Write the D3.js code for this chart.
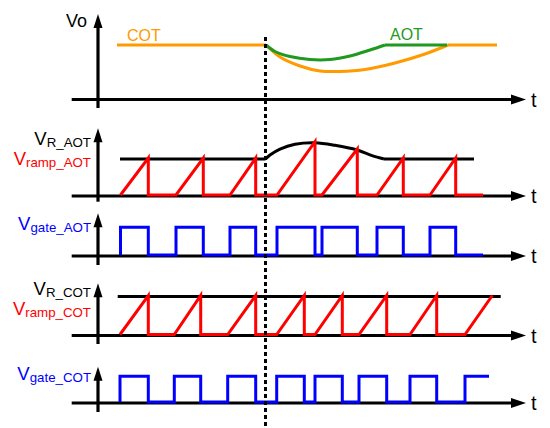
<!DOCTYPE html>
<html><head><meta charset="utf-8">
<script src="https://cdn.jsdelivr.net/npm/d3@7"></script>
<style>
body{margin:0;background:#fff}
svg{display:block}
text{font-family:"Liberation Sans",Arial,sans-serif}
</style>
</head><body>
<svg id="c" width="550" height="428"></svg>
<script>
// ---------------- DATA (time in arbitrary units, t = 0 at the vertical axes) ----------------
const loadStep = 167.5;               // load transient instant (dashed line)

// Vo panel, normalised (1 = regulated level)
const voCotFlatBefore = [[19, 1], [168, 1]];
const voCotDip = [[168, 1], [182, 0.780], [202, 0.615], [222, 0.523], [242, 0.514], [267, 0.550], [297, 0.670], [327, 0.835], [350, 1]];
const voCotFlatAfter = [[350, 1], [399, 1]];
const voAotDip = [[168, 1], [177, 0.881], [192, 0.789], [212, 0.734], [232, 0.734], [252, 0.798], [272, 0.908], [287, 1]];
const voAotFlatAfter = [[287, 1], [349, 1]];

// AOT ramp threshold V_R_AOT (normalised)
const vrAotFlatBefore = [[22, 1], [167.5, 1]];
const vrAotBump = [[167.5, 1], [172, 1.11], [182, 1.27], [197, 1.40], [217, 1.44], [237, 1.37], [259, 1.243], [274, 1.09], [286, 1]];
const vrAotFlatAfter = [[286, 1], [376, 1]];

// AOT switching: on-time starts / ends and ramp peaks
const aotOnStart = [22.5, 78, 132, 179, 224, 279, 332];
const aotOnEnd   = [50.3, 105.3, 157.7, 217, 259.3, 305.3, 357.7];
const aotPeak    = [1, 1, 1, 1.44, 1.243, 1, 1];
const aotEnd = 385;

// COT switching
const vrCot = [[19.7, 1], [402.7, 1]];
const cotOnStart = [22, 76.3, 129.7, 178.7, 217, 261, 312, 367];
const cotOnEnd   = [50.3, 102.7, 157.7, 206.3, 244.3, 288.7, 338.7, 394.3];
const cotGateLastEnd = 391;

// Labels
const leftLabels = [
  {main: "V", sub: "R_AOT", color: "#000", panel: 1, y: 145},
  {main: "V", sub: "ramp_AOT", color: "#ff0000", panel: 1, y: 165},
  {main: "V", sub: "gate_AOT", color: "#0000ff", panel: 2, y: 230},
  {main: "V", sub: "R_COT", color: "#000", panel: 3, y: 295},
  {main: "V", sub: "ramp_COT", color: "#ff0000", panel: 3, y: 315},
  {main: "V", sub: "gate_COT", color: "#0000ff", panel: 4, y: 380}
];

// ---------------- LAYOUT ----------------
const ORANGE = "#ff9a00", GREEN = "#1f9a1f", RED = "#ff0000", BLUE = "#0000ff";
const svg = d3.select("#c");
const x = d3.scaleLinear().domain([0, 430]).range([98, 528]);
const panels = [
  {base: 99.5, top: 45,    axTop: 14,    axBot: 108},
  {base: 196,  top: 159,   axTop: 128.3, axBot: 201.7},
  {base: 256,  top: 228.3, axTop: 213.3, axBot: 265},
  {base: 335.5,top: 296.5, axTop: 283.3, axBot: 344},
  {base: 403,  top: 377.3, axTop: 366.7, axBot: 412}
];
panels.forEach(p => { p.y = d3.scaleLinear().domain([0, 1]).range([p.base, p.top]); });

const axisStartX = x(-26.3), axisTipX = 526;

// axes
panels.forEach(p => {
  svg.append("line").attr("x1", axisStartX).attr("x2", axisTipX - 12).attr("y1", p.base).attr("y2", p.base)
    .attr("stroke", "#000").attr("stroke-width", 3.2);
  svg.append("path").attr("d", `M${axisTipX},${p.base}L${axisTipX-15},${p.base-5}L${axisTipX-15},${p.base+5}Z`).attr("fill", "#000");
  const ax = x(0);
  svg.append("line").attr("x1", ax).attr("x2", ax).attr("y1", p.axBot).attr("y2", p.axTop + 12)
    .attr("stroke", "#000").attr("stroke-width", 3.2);
  svg.append("path").attr("d", `M${ax},${p.axTop}L${ax-4.5},${p.axTop+14}L${ax+4.5},${p.axTop+14}Z`).attr("fill", "#000");
  svg.append("text").attr("x", 531).attr("y", p.base + 7).attr("font-size", 20).attr("fill", "#000").text("t");
});

function lineFor(p, curve, off) {
  return d3.line().x(d => x(d[0])).y(d => p.y(d[1]) - (off || 0)).curve(curve || d3.curveLinear);
}
function draw(data, p, color, curve, w, off) {
  svg.append("path").datum(data).attr("d", lineFor(p, curve, off))
    .attr("fill", "none").attr("stroke", color).attr("stroke-width", w || 3)
    .attr("stroke-linejoin", "miter").attr("stroke-linecap", "butt");
}

// Vo panel
const P0 = panels[0];
draw(voCotFlatBefore, P0, ORANGE);
draw(voCotDip, P0, ORANGE, d3.curveCatmullRom.alpha(0.5));
draw(voCotFlatAfter, P0, ORANGE);
draw(voAotDip, P0, GREEN, d3.curveCatmullRom.alpha(0.5));
draw(voAotFlatAfter, P0, GREEN);
svg.append("text").attr("x", 127).attr("y", 40.7).attr("font-size", 16).attr("fill", ORANGE).text("COT");
svg.append("text").attr("x", 390).attr("y", 40).attr("font-size", 16).attr("fill", GREEN).text("AOT");
svg.append("text").attr("x", 87).attr("y", 27).attr("font-size", 18).attr("text-anchor", "end").attr("fill", "#000").text("Vo");

// AOT ramp panel
const P1 = panels[1], P2 = panels[2], P3 = panels[3], P4 = panels[4];
draw(vrAotFlatBefore, P1, "#000", null, 3);
draw(vrAotBump, P1, "#000", d3.curveCatmullRom.alpha(0.5), 3);
draw(vrAotFlatAfter, P1, "#000", null, 3);

function rampPts(starts, ends, peaks, finalT, openEnd) {
  const pts = [];
  starts.forEach((s, i) => {
    pts.push([s, 0], [ends[i], peaks[i]]);
    if (!(openEnd && i === starts.length - 1)) pts.push([ends[i], 0]);
  });
  if (!openEnd) pts.push([finalT, 0]);
  return pts;
}
function gatePts(starts, ends, finalT, openEnd) {
  const pts = [];
  starts.forEach((s, i) => {
    if (openEnd && i === starts.length - 1) { pts.push([s, 0], [s, 1], [finalT, 1]); }
    else pts.push([s, 0], [s, 1], [ends[i], 1], [ends[i], 0]);
  });
  if (!openEnd) pts.push([finalT, 0]);
  return pts;
}

draw(rampPts(aotOnStart, aotOnEnd, aotPeak, aotEnd, false), P1, RED, null, 3, 1);
draw(gatePts(aotOnStart, aotOnEnd, aotEnd, false), P2, BLUE, null, 3, 1);

// COT panels
draw(vrCot, P3, "#000", null, 3);
draw(rampPts(cotOnStart, cotOnEnd, cotOnStart.map(() => 1), null, true), P3, RED, null, 3, 1);
draw(gatePts(cotOnStart, cotOnEnd, cotGateLastEnd, true), P4, BLUE, null, 3, 1);

// left labels
leftLabels.forEach(l => {
  const t = svg.append("text").attr("x", 91).attr("y", l.y).attr("text-anchor", "end").attr("fill", l.color);
  t.append("tspan").attr("font-size", 18.5).text(l.main);
  t.append("tspan").attr("font-size", 13.3).attr("dy", 1.5).text(l.sub);
});

// dashed load-step line
svg.append("line").attr("x1", x(loadStep)).attr("x2", x(loadStep)).attr("y1", 37).attr("y2", 428)
  .attr("stroke", "#000").attr("stroke-width", 3).attr("stroke-dasharray", "4,3");
</script>
</body></html>
